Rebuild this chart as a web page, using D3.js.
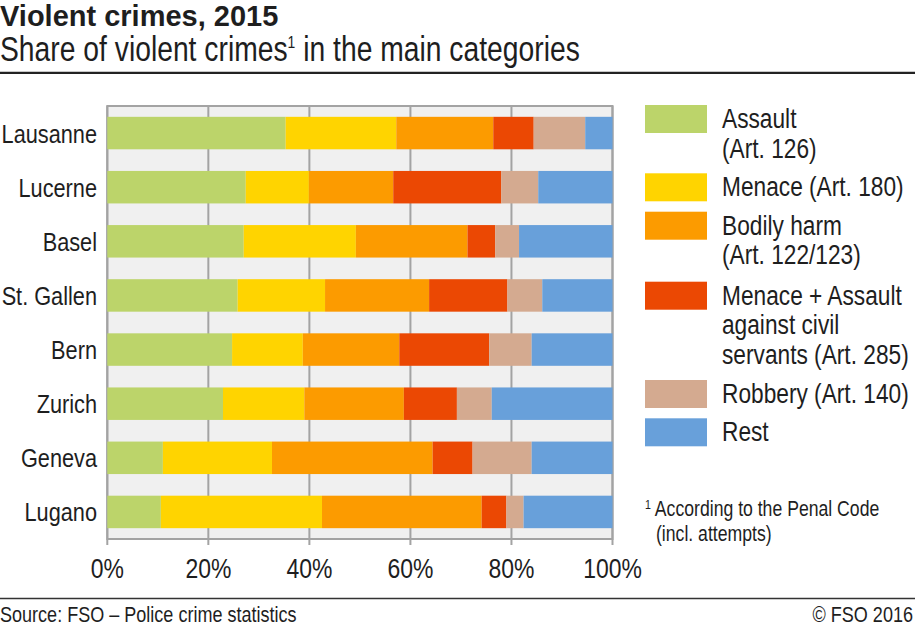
<!DOCTYPE html>
<html><head><meta charset="utf-8">
<script src="https://cdn.jsdelivr.net/npm/d3@7"></script>
<style>
body{margin:0;background:#fff;}
svg text{font-family:"Liberation Sans",Arial,sans-serif;fill:#1e1e1e;}
</style></head>
<body><svg id="c" width="915" height="628"></svg>
<script>
const cities = ["Lausanne","Lucerne","Basel","St. Gallen","Bern","Zurich","Geneva","Lugano"];
const seriesNames = ["Assault","Menace","Bodily harm","Menace + Assault","Robbery","Rest"];
const assault   = [35.3,27.4,27.0,25.8,24.7,22.9,11.0,10.6];
const menace    = [21.9,12.5,22.2,17.3,14.0,16.1,21.6,31.9];
const bodily    = [19.2,16.7,22.1,20.6,19.1,19.7,31.8,31.6];
const menAssault= [ 8.0,21.4, 5.5,15.5,17.8,10.5, 7.9, 4.9];
const robbery   = [10.2, 7.3, 4.7, 6.9, 8.4, 6.9,11.7, 3.4];
const rest      = [ 5.4,14.7,18.5,13.9,16.0,23.9,16.0,17.6];
const colors = ["#bcd46a","#ffd400","#fc9b00","#eb4803","#d4aa90","#68a0da"];
const legendLabels = [["Assault","(Art. 126)"],["Menace (Art. 180)"],["Bodily harm","(Art. 122/123)"],
  ["Menace + Assault","against civil","servants (Art. 285)"],["Robbery (Art. 140)"],["Rest"]];
const ticks = [0,20,40,60,80,100];

const svg = d3.select("#c");
const SX = 0.82;
function ntext(parent, x, y, size, anchor){
  return parent.append("text").attr("transform",`translate(${x},${y}) scale(${SX},1)`)
    .attr("text-anchor",anchor||"start").style("font-size",size+"px");
}
const allSeries = [assault,menace,bodily,menAssault,robbery,rest];
const rows = cities.map((c,i)=>{const o={city:c}; seriesNames.forEach((s,j)=>o[s]=allSeries[j][i]); return o;});
const stack = d3.stack().keys(seriesNames)(rows);

const x = d3.scaleLinear().domain([0,100]).range([107.3,612.5]);
const y = d3.scaleBand().domain(cities).range([106,539]).paddingInner(0.4).paddingOuter(0.2);

// header
svg.append("text").attr("x",0).attr("y",26)
  .style("font-weight","bold").style("font-size","29px").text("Violent crimes, 2015");
const st = ntext(svg,0,61,34.5);
st.append("tspan").text("Share of violent crimes");
st.append("tspan").attr("dy",-13).style("font-size","17px").text("1");
st.append("tspan").attr("dy",13).text(" in the main categories");
svg.append("line").attr("x1",0).attr("x2",915).attr("y1",72.8).attr("y2",72.8).attr("stroke","#222").attr("stroke-width",2.2);

// plot background
svg.append("rect").attr("x",x(0)).attr("y",106).attr("width",x(100)-x(0)).attr("height",433).attr("fill","#f0f0f0");
// gridlines
svg.append("g").selectAll("line").data(ticks).join("line")
  .attr("x1",d=>x(d)).attr("x2",d=>x(d)).attr("y1",106).attr("y2",545)
  .attr("stroke","#a3a3a3").attr("stroke-width",2);
svg.append("rect").attr("x",x(0)).attr("y",106).attr("width",x(100)-x(0)).attr("height",433)
  .attr("fill","none").attr("stroke","#a3a3a3").attr("stroke-width",2);

// bars
svg.append("g").selectAll("g").data(stack).join("g").attr("fill",(d,i)=>colors[i])
  .selectAll("rect").data(d=>d).join("rect")
  .attr("x",d=>x(d[0])).attr("width",d=>x(d[1])-x(d[0]))
  .attr("y",d=>y(d.data.city)).attr("height",y.bandwidth());

// axis labels
const tg = svg.append("g");
ticks.forEach(d=>ntext(tg,x(d),578,28,"middle").text(d+"%"));
const cg = svg.append("g");
cities.forEach(d=>ntext(cg,97,y(d)+y.bandwidth()/2+9.5,26.5,"end").text(d));

// legend
const swY = [105,173.3,211.7,281.7,380,418.3];
const lg = svg.append("g");
legendLabels.forEach((lines,i)=>{
  lg.append("rect").attr("x",645).attr("y",swY[i]).attr("width",62).attr("height",28).attr("fill",colors[i]);
  lines.forEach((l,k)=>ntext(lg,722,swY[i]+23+k*29.5,27.7).text(l));
});
// footnote
const fn = ntext(svg,645,516,21.5);
fn.append("tspan").attr("dy",-7).style("font-size","13px").text("1");
fn.append("tspan").attr("dy",7).text(" According to the Penal Code");
ntext(svg,656,541,21.5).text("(incl. attempts)");

// footer
svg.append("line").attr("x1",0).attr("x2",915).attr("y1",598.5).attr("y2",598.5).attr("stroke","#333").attr("stroke-width",1.6);
ntext(svg,0,622,22).text("Source: FSO – Police crime statistics");
ntext(svg,913,622,22,"end").text("© FSO 2016");
</script></body></html>
